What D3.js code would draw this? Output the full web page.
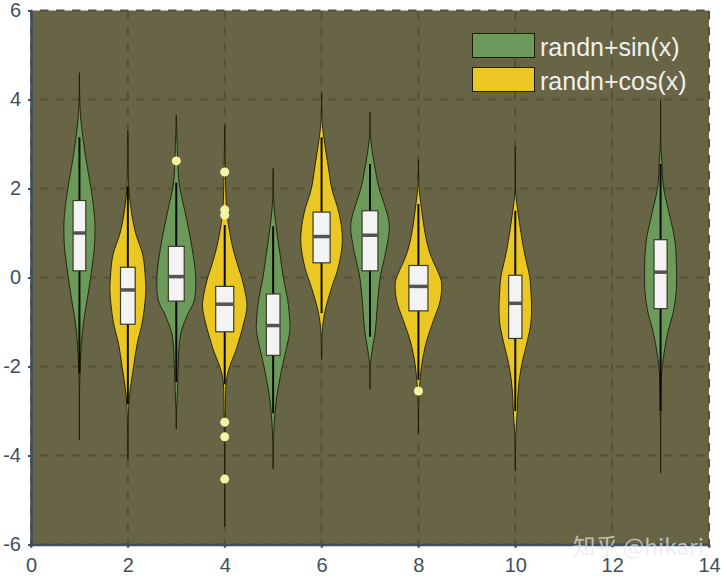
<!DOCTYPE html>
<html>
<head>
<meta charset="utf-8">
<script src="https://cdn.jsdelivr.net/npm/d3@7"></script>
<style>
  body { margin: 0; background: #fff; }
  svg { display: block; font-family: "Liberation Sans", Arial, sans-serif; }
</style>
</head>
<body>
<svg id="chart" width="722" height="579"></svg>
<script>
// one entry per violin
const positions = [1, 2, 3, 4, 5, 6, 7, 8, 10, 13];
const groups = [0, 1, 0, 1, 0, 1, 0, 1, 1, 0];
const seriesNames = ['randn+sin(x)', 'randn+cos(x)'];
const seriesColors = ['#6c9a5a', '#ebc724'];

const whiskerHigh = [3.15, 2.05, 2.13, 1.18, 1.15, 3.15, 2.55, 1.65, 1.5, 2.55];
const whiskerLow = [-2.15, -2.85, -2.35, -2.4, -3.05, -0.8, -1.33, -2.3, -3.0, -3.0];
const boxHigh = [1.73, 0.23, 0.7, -0.2, -0.37, 1.47, 1.5, 0.27, 0.05, 0.85];
const boxLow = [0.15, -1.05, -0.53, -1.22, -1.75, 0.33, 0.15, -0.75, -1.37, -0.7];
const medians = [1, -0.28, 0.02, -0.6, -1.08, 0.92, 0.95, -0.2, -0.58, 0.12];
const outliers = [[], [], [2.62], [2.37, 1.52, 1.4, -3.25, -3.58, -4.53], [], [], [], [-2.55], [], []];

// density outline: levels and half widths (x units)
const levels = [
  [4.6, 4, 3.68, 3.15, 2.5, 2, 1.5, 1.2, 0.7, 0, -0.5, -1, -1.5, -2, -2.5, -3.65],
  [3.3, 2.5, 2, 1.5, 1, 0.5, 0, -0.3, -1, -1.5, -2, -2.5, -3, -4.1],
  [3.65, 2.62, 2.1, 1.5, 1, 0.5, 0, -0.52, -0.82, -1.27, -2, -2.5, -3, -3.4],
  [3.42, 2, 1.5, 1.2, 0.7, 0.2, 0, -0.5, -0.7, -1, -1.64, -2.01, -2.31, -3, -4, -5.6],
  [2.45, 1.58, 1, 0.5, 0, -0.5, -1, -1.19, -1.57, -1.94, -2.69, -3.44, -4.3],
  [4.15, 3.53, 3.12, 2.48, 2, 1.43, 0.83, 0.23, -0.22, -0.67, -1.12, -1.85],
  [3.72, 3.15, 2.48, 2, 1.43, 1.13, 0.6, 0, -0.52, -1.19, -1.57, -1.94, -2.52],
  [2.65, 2.07, 1.66, 0.98, 0.54, 0, -0.14, -0.52, -0.97, -1.42, -1.94, -2.31, -2.7, -3.5],
  [2.95, 1.95, 1.43, 0.6, 0, -0.29, -0.6, -1.04, -1.42, -2, -2.54, -3, -3.59, -4.35],
  [4, 3, 2.55, 2.03, 1.43, 0.83, 0.2, -0.29, -0.74, -1.26, -2, -2.54, -4.4]
];
const halfWidths = [
  [0, 0.006, 0.02, 0.07, 0.16, 0.24, 0.3, 0.32, 0.31, 0.23, 0.16, 0.085, 0.04, 0.015, 0.004, 0],
  [0, 0.008, 0.02, 0.07, 0.16, 0.31, 0.36, 0.37, 0.3, 0.19, 0.12, 0.05, 0.015, 0],
  [0, 0.03, 0.06, 0.175, 0.27, 0.35, 0.4, 0.37, 0.24, 0.09, 0.04, 0.025, 0.006, 0],
  [0, 0.02, 0.04, 0.075, 0.16, 0.29, 0.35, 0.45, 0.455, 0.4, 0.23, 0.1, 0.035, 0.012, 0.004, 0],
  [0, 0.02, 0.08, 0.145, 0.21, 0.3, 0.345, 0.345, 0.28, 0.2, 0.075, 0.015, 0],
  [0, 0.01, 0.05, 0.14, 0.21, 0.365, 0.43, 0.345, 0.21, 0.09, 0.02, 0],
  [0, 0.012, 0.1, 0.19, 0.355, 0.4, 0.33, 0.21, 0.16, 0.11, 0.055, 0.01, 0],
  [0, 0.01, 0.05, 0.14, 0.24, 0.45, 0.48, 0.45, 0.31, 0.17, 0.07, 0.035, 0.01, 0],
  [0, 0.005, 0.06, 0.18, 0.3, 0.32, 0.335, 0.32, 0.25, 0.125, 0.06, 0.04, 0.008, 0],
  [0, 0.006, 0.03, 0.06, 0.18, 0.295, 0.33, 0.325, 0.27, 0.145, 0.035, 0.01, 0]
];

const xTicks = [0, 2, 4, 6, 8, 10, 12, 14];
const yTicks = [-6, -4, -2, 0, 2, 4, 6];
const outlierColor = '#f5f4a6';
const axisColor = '#3f4f5f';

const x = d3.scaleLinear().domain([0, 14]).range([31, 709]);
const y = d3.scaleLinear().domain([-6, 6]).range([544.5, 10.5]);

const svg = d3.select('#chart');

svg.append('rect')
  .attr('x', x(0)).attr('y', y(6))
  .attr('width', x(14) - x(0)).attr('height', y(-6) - y(6))
  .attr('fill', '#686446');

// grid
const grid = svg.append('g').attr('stroke', '#525139').attr('stroke-width', 2).attr('stroke-dasharray', '8.5,7.5');
grid.selectAll('line.h').data(yTicks).join('line')
  .attr('class', 'h')
  .attr('x1', x(0)).attr('x2', x(14))
  .attr('y1', d => y(d)).attr('y2', d => y(d))
  .attr('stroke-dashoffset', 7);
grid.selectAll('line.v').data(xTicks).join('line')
  .attr('class', 'v')
  .attr('x1', d => x(d)).attr('x2', d => x(d))
  .attr('y1', y(-6) + 3).attr('y2', y(6));

// violins
const area = d3.area()
  .y(d => y(d.level))
  .x0(d => x(d.pos - d.w))
  .x1(d => x(d.pos + d.w))
  .curve(d3.curveCatmullRom.alpha(0.5));

positions.forEach((pos, i) => {
  const g = svg.append('g');
  const profile = levels[i].map((level, j) => ({ level, pos, w: halfWidths[i][j] }));
  g.append('path')
    .attr('d', area(profile))
    .attr('fill', seriesColors[groups[i]])
    .attr('stroke', '#1c1c08')
    .attr('stroke-width', 0.9);

  g.append('line')
    .attr('x1', x(pos)).attr('x2', x(pos))
    .attr('y1', y(whiskerHigh[i])).attr('y2', y(whiskerLow[i]))
    .attr('stroke', '#0a0a00').attr('stroke-width', 2);

  // box width follows the violin's widest point
  const boxW = (x(d3.max(halfWidths[i])) - x(0)) * 2 * 0.41;
  g.append('rect')
    .attr('x', x(pos) - boxW / 2).attr('y', y(boxHigh[i]))
    .attr('width', boxW).attr('height', y(boxLow[i]) - y(boxHigh[i]))
    .attr('fill', '#f3f3f3').attr('stroke', '#3a3a2a').attr('stroke-width', 1.2);

  g.append('line')
    .attr('x1', x(pos) - boxW / 2).attr('x2', x(pos) + boxW / 2)
    .attr('y1', y(medians[i])).attr('y2', y(medians[i]))
    .attr('stroke', '#55554f').attr('stroke-width', 3.5);

  g.selectAll('circle').data(outliers[i]).join('circle')
    .attr('cx', x(pos)).attr('cy', d => y(d))
    .attr('r', 4.5).attr('fill', outlierColor);
});

// axes
const xAxis = svg.append('g')
  .attr('transform', `translate(0,${y(-6)})`)
  .call(d3.axisBottom(x).tickValues(xTicks).tickFormat(String).tickSize(3).tickSizeOuter(0).tickPadding(10));
const yAxis = svg.append('g')
  .attr('transform', `translate(${x(0)},0)`)
  .call(d3.axisLeft(y).tickValues(yTicks).tickFormat(String).tickSize(3).tickSizeOuter(0).tickPadding(7));
[xAxis, yAxis].forEach(a => {
  a.selectAll('.domain').attr('stroke', axisColor).attr('stroke-width', 2.6);
  a.selectAll('.tick line').attr('stroke', axisColor).attr('stroke-width', 2);
  a.selectAll('text').attr('fill', axisColor).attr('font-size', 20)
    .attr('font-family', '"Liberation Sans", Arial, sans-serif');
});

// legend
const legend = svg.append('g');
seriesNames.forEach((name, i) => {
  legend.append('rect')
    .attr('x', 472.5).attr('y', 33.5 + i * 34)
    .attr('width', 62).attr('height', 24)
    .attr('fill', seriesColors[i])
    .attr('stroke', '#1c1c08').attr('stroke-width', 1);
  legend.append('text')
    .attr('x', 540).attr('y', 56 + i * 33.5)
    .attr('font-size', 25).attr('fill', '#f0f0ee')
    .text(name);
});

// site watermark in the picture
svg.append('text')
  .attr('x', 573).attr('y', 555)
  .attr('font-size', 22.5)
  .attr('font-family', '"Noto Sans CJK SC", "Liberation Sans", sans-serif')
  .attr('fill', 'rgba(232,232,232,0.7)')
  .text('知乎 @hikari');
</script>
</body>
</html>
